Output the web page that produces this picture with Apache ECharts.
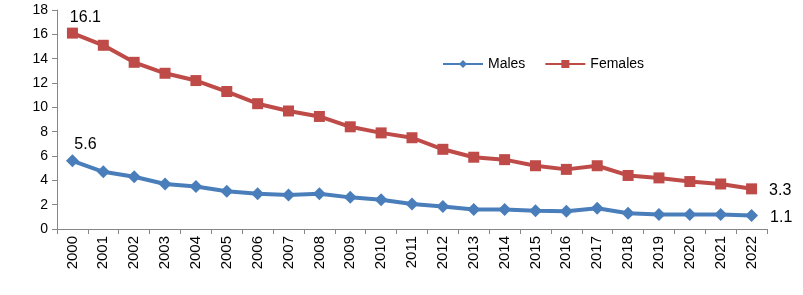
<!DOCTYPE html>
<html><head><meta charset="utf-8">
<script src="https://cdn.jsdelivr.net/npm/echarts@6/dist/echarts.min.js"></script>
<style>html,body{margin:0;padding:0;background:#fff}#c{width:803px;height:295px}</style>
</head><body><div id="c"></div>
<script>
const years = ['2000','2001','2002','2003','2004','2005','2006','2007','2008','2009','2010','2011','2012','2013','2014','2015','2016','2017','2018','2019','2020','2021','2022'];
const males = [5.6,4.7,4.3,3.7,3.5,3.1,2.9,2.8,2.9,2.6,2.4,2.05,1.85,1.6,1.6,1.5,1.45,1.7,1.3,1.2,1.2,1.2,1.1];
const females = [16.1,15.1,13.7,12.8,12.2,11.3,10.3,9.7,9.25,8.4,7.9,7.5,6.55,5.9,5.7,5.2,4.9,5.2,4.4,4.2,3.9,3.7,3.3];
const yTicks = [0,2,4,6,8,10,12,14,16,18];
const seriesNames = ['Males','Females'];

const font = 'Liberation Sans, Arial, sans-serif';
const chart = echarts.init(document.getElementById('c'), null, {renderer:'canvas'});
function mkSeries(name, data, color, symbol, size){
  const last = data.length-1;
  return {
    name, type:'line', data: data.map((v,i)=>{
      const o = {value:v};
      if(i===0){ o.label = {show:true, position:'top', distance:2, offset:[13,0]}; }
      else if(i===last){ o.label = {show:true, position:'right', distance:12, offset:[0,2]}; }
      return o;
    }),
    symbol, symbolSize:size, showSymbol:true,
    lineStyle:{color, width:4},
    itemStyle:{color},
    label:{show:false, color:'#000', fontSize:16, fontFamily:font},
    emphasis:{disabled:true}, animation:false
  };
}
chart.setOption({
  animation:false,
  grid:{left:57, right:36, top:10, bottom:66, containLabel:false},
  legend:{
    data: seriesNames,
    left:442, top:57, padding:0, itemWidth:40, itemHeight:10, itemGap:19,
    textStyle:{fontSize:14, color:'#000', fontFamily:font}
  },
  xAxis:{
    type:'category', data:years, boundaryGap:true,
    axisLine:{lineStyle:{color:'#868686', width:1}},
    axisTick:{show:true, alignWithLabel:false, length:5, lineStyle:{color:'#868686'}},
    axisLabel:{rotate:90, fontSize:15, color:'#000', fontFamily:font, margin:7, interval:0}
  },
  yAxis:{
    type:'value', min:yTicks[0], max:yTicks[yTicks.length-1], interval:2,
    splitLine:{show:false},
    axisLine:{show:true, lineStyle:{color:'#868686', width:1}},
    axisTick:{show:true, length:5, lineStyle:{color:'#868686'}},
    axisLabel:{fontSize:14, color:'#000', fontFamily:font, margin:9}
  },
  series:[
    mkSeries(seriesNames[0], males, '#4A7EBB', 'diamond', 13),
    mkSeries(seriesNames[1], females, '#BE4B48', 'rect', 11)
  ]
});
</script></body></html>
